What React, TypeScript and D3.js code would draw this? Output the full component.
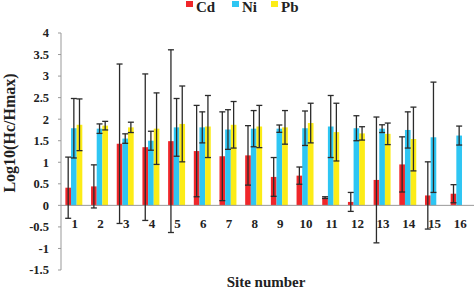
import React from "react";
import * as d3 from "d3";

const WIDTH = 474;
const HEIGHT = 289;
const MARGIN = { top: 33, right: 2, bottom: 19, left: 61 };
const FONT = "'Liberation Serif', 'Times New Roman', serif";

const sites = ["1", "2", "3", "4", "5", "6", "7", "8", "9", "10", "11", "12", "13", "14", "15", "16"];
const seriesNames = ["Cd", "Ni", "Pb"];
const seriesColors = ["#f0262a", "#2ec6f3", "#fcec17"];

const cdValues = [0.41, 0.44, 1.43, 1.35, 1.49, 1.26, 1.14, 1.16, 0.66, 0.69, 0.18, 0.08, 0.59, 0.95, 0.23, 0.27];
const cdErrors = [0.71, 0.5, 1.85, 1.7, 2.12, 1.06, 1.03, 0.69, 0.45, 0.2, 0.02, 0.22, 1.46, 0.64, 0.78, 0.21];
const niValues = [1.79, 1.78, 1.55, 1.5, 1.81, 1.81, 1.76, 1.78, 1.78, 1.79, 1.83, 1.79, 1.78, 1.75, 1.58, 1.62];
const niErrors = [0.69, 0.11, 0.11, 0.22, 0.67, 0.36, 0.46, 0.42, 0.085, 0.4, 0.72, 0.29, 0.09, 0.42, 1.28, 0.22];
const pbValues = [1.87, 1.85, 1.81, 1.78, 1.89, 1.83, 1.87, 1.83, 1.81, 1.91, 1.7, 1.67, 1.66, 1.54, null, null];
const pbErrors = [0.6, 0.1, 0.12, 0.83, 0.88, 0.72, 0.54, 0.49, 0.39, 0.46, 0.67, 0.155, 0.25, 0.74, null, null];

const yTicks = [-1.5, -1, -0.5, 0, 0.5, 1, 1.5, 2, 2.5, 3, 3.5, 4];

export default function App() {
  const boundsWidth = WIDTH - MARGIN.left - MARGIN.right;
  const boundsHeight = HEIGHT - MARGIN.top - MARGIN.bottom;

  const xScale = d3.scaleBand().domain(sites).range([0, boundsWidth]).paddingInner(0.34).paddingOuter(0.17);
  const subScale = d3.scaleBand().domain(seriesNames).range([0, xScale.bandwidth()]);
  const yScale = d3.scaleLinear().domain([-1.5, 4]).range([boundsHeight, 0]);

  const series = [
    { values: cdValues, errors: cdErrors },
    { values: niValues, errors: niErrors },
    { values: pbValues, errors: pbErrors },
  ];

  const bars: React.ReactNode[] = [];
  const errorBars: React.ReactNode[] = [];
  sites.forEach((site, i) => {
    series.forEach((s, j) => {
      const v = s.values[i];
      const e = s.errors[i];
      if (v == null) return;
      const x = (xScale(site) as number) + (subScale(seriesNames[j]) as number);
      const w = subScale.bandwidth();
      bars.push(
        <rect
          key={`b-${i}-${j}`}
          x={x}
          width={w}
          y={yScale(Math.max(v, 0))}
          height={Math.abs(yScale(v) - yScale(0))}
          fill={seriesColors[j]}
        />
      );
      if (e == null) return;
      // symmetric error bar with caps
      const cx = x + w / 2;
      const top = yScale(v + e);
      const bot = yScale(v - e);
      errorBars.push(
        <g key={`e-${i}-${j}`} stroke="#2b2b2b" strokeWidth={1.3}>
          <line x1={cx} x2={cx} y1={top} y2={bot} />
          <line x1={cx - 3} x2={cx + 3} y1={top} y2={top} />
          <line x1={cx - 3} x2={cx + 3} y1={bot} y2={bot} />
        </g>
      );
    });
  });

  const legendX = [186, 232, 271];

  return (
    <svg width={WIDTH} height={HEIGHT} style={{ position: "absolute", left: 0, top: 0, background: "#fff" }} fontFamily={FONT}>
      {/* legend */}
      {seriesNames.map((name, j) => (
        <g key={name} transform={`translate(${legendX[j]},0)`}>
          <rect x={0} y={1} width={7} height={6} fill={seriesColors[j]} />
          <text x={10} y={12} fontSize={15} fontWeight="bold" fill="#222">
            {name}
          </text>
        </g>
      ))}

      <g transform={`translate(${MARGIN.left},${MARGIN.top})`}>
        {bars}
        {/* zero line */}
        <line x1={0} x2={boundsWidth + MARGIN.right} y1={yScale(0)} y2={yScale(0)} stroke="#999" strokeWidth={1} />
        {/* y axis */}
        <line x1={0} x2={0} y1={yScale(-1.5)} y2={yScale(4)} stroke="#999" strokeWidth={1} />
        {yTicks.map((t) => (
          <g key={t}>
            <line x1={-3} x2={0} y1={yScale(t)} y2={yScale(t)} stroke="#999" />
            <text x={-12} y={yScale(t)} dy="0.35em" textAnchor="end" fontSize={12.5} fontWeight="bold" fill="#222">
              {String(t)}
            </text>
          </g>
        ))}
        {errorBars}
        {/* x tick labels */}
        {sites.map((s) => (
          <text
            key={s}
            x={(xScale(s) as number) + xScale.bandwidth() / 2 + 1}
            y={yScale(0) + 23}
            textAnchor="middle"
            fontSize={13}
            fontWeight="bold"
            fill="#222"
          >
            {s}
          </text>
        ))}
      </g>

      <text
        transform={`translate(15,133) rotate(-90)`}
        textAnchor="middle"
        fontSize={16}
        fontWeight="bold"
        fill="#222"
      >
        Log10(Hc/Hmax)
      </text>
      <text x={266} y={287} textAnchor="middle" fontSize={15} fontWeight="bold" fill="#222">
        Site number
      </text>
    </svg>
  );
}
